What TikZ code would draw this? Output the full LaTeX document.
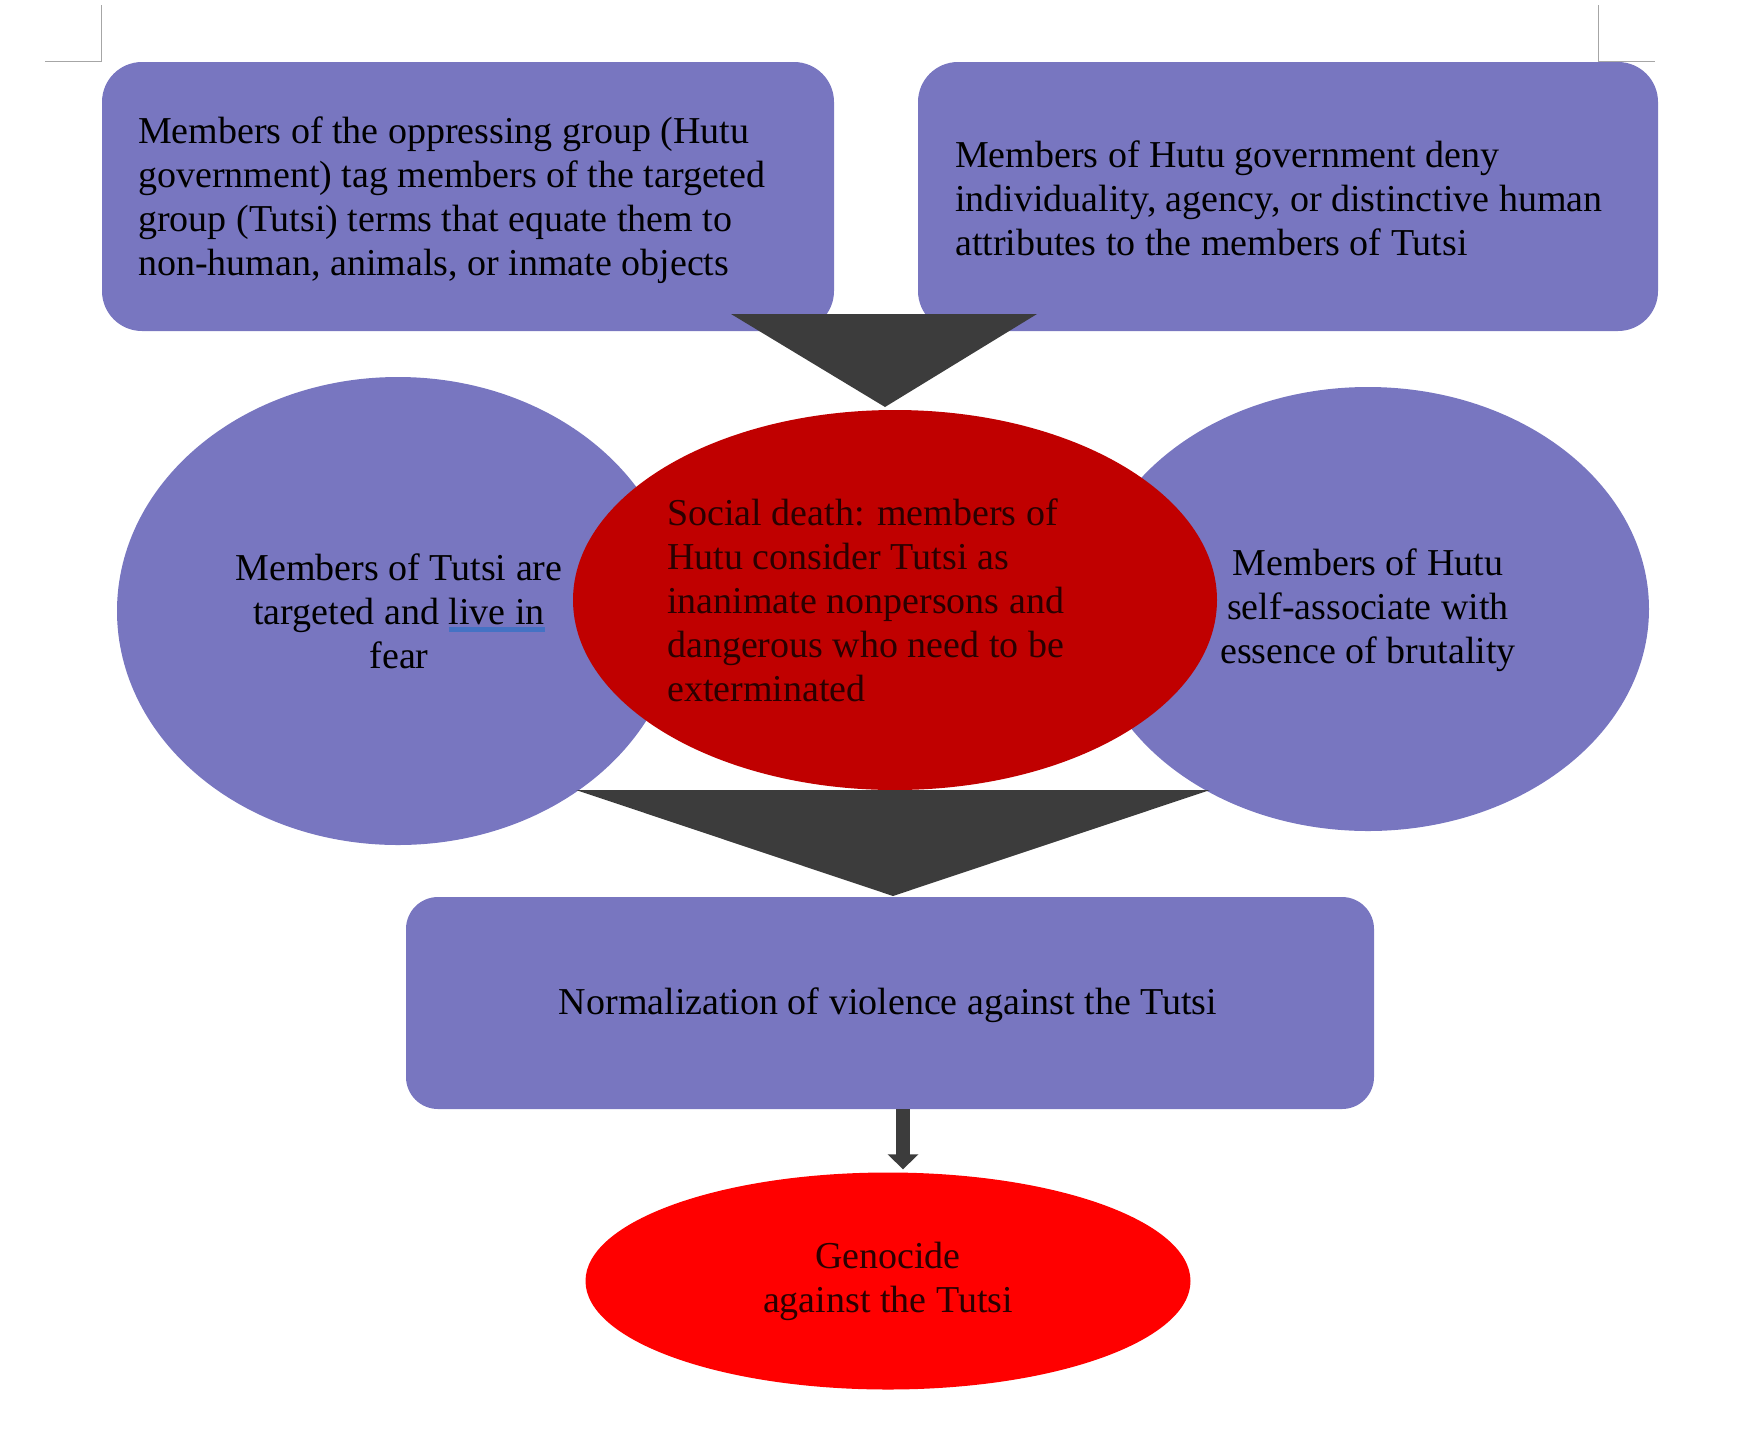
\documentclass[tikz,border=0pt]{standalone}
\usepackage{fontspec}
\setmainfont{Liberation Serif}
\usetikzlibrary{shapes.geometric,arrows.meta}
\definecolor{boxpurple}{HTML}{7876C0}
\definecolor{socred}{HTML}{C00000}
\definecolor{genred}{HTML}{FF0000}
\definecolor{tridark}{HTML}{3C3C3C}
\definecolor{ulblue}{HTML}{4472C4}
\definecolor{cropmark}{HTML}{A6A6A6}
\definecolor{redtext}{HTML}{2A0000}
\newcommand\blueul[1]{\setbox0\hbox{#1}\rlap{\color{ulblue}\rule[-7.5pt]{\wd0}{5pt}}\box0}
\begin{document}
\begin{tikzpicture}[x=1pt,y=-1pt,
  txt/.style={font=\fontsize{38}{44}\selectfont, inner sep=0pt, text=black},
  rbox/.style={fill=boxpurple, draw=none, rounded corners=40pt, inner sep=0pt},
  oval/.style={ellipse, draw=none, inner sep=0pt},
  tri/.style={fill=tridark, draw=none}]
\useasboundingbox (0,0) rectangle (1746,1428);
% crop marks
\draw[cropmark, line width=1pt] (45,61) -- (101,61) -- (101,5);
\draw[cropmark, line width=1pt] (1598,5) -- (1598,61) -- (1655,61);
% top boxes
\node[rbox, minimum width=732, minimum height=269] (tl) at (468,196.5) {};
\node[rbox, minimum width=740, minimum height=269] (tr) at (1288,196.5) {};
\node[txt, anchor=west, align=left] (tlt) at (138,200)
  {Members of the oppressing group (Hutu\\government) tag members of the targeted\\group (Tutsi) terms that equate them to\\non-human, animals, or inmate objects};
\node[txt, anchor=west, align=left] (trt) at (955,198)
  {Members of Hutu government deny\\individuality, agency, or distinctive human\\attributes to the members of Tutsi};
% top triangle
\coordinate (ta) at (731,314);
\coordinate (tb) at (1037,314);
\coordinate (tc) at (885,407);
\fill[tri] (ta) -- (tb) -- (tc) -- cycle;
% middle ellipses
\node[oval, fill=boxpurple, minimum width=562, minimum height=468] (lc) at (398,611) {};
\node[oval, fill=boxpurple, minimum width=562, minimum height=444] (rc) at (1368,609) {};
\node[oval, fill=socred, minimum width=644, minimum height=380] (sd) at (895,600) {};
\node[txt, align=center] (lct) at (399,611)
  {Members of Tutsi are\\targeted and \blueul{live in}\\fear};
\node[txt, align=center] (rct) at (1368,610)
  {Members of Hutu\\self-associate with\\essence of brutality};
\node[txt, anchor=west, align=left, text=redtext] (sdt) at (667,600)
  {Social death: members of\\Hutu consider Tutsi as\\inanimate nonpersons and\\dangerous who need to be\\exterminated};
% bottom triangle
\coordinate (ba) at (576,790);
\coordinate (bb) at (1210,790);
\coordinate (bc) at (893,896);
\fill[tri] (ba) -- (bb) -- (bc) -- cycle;
% normalization box
\node[rbox, minimum width=968, minimum height=212, rounded corners=32pt] (nb) at (890,1003) {};
\node[txt] (nbt) at (888,1005) {Normalization of violence against the Tutsi};
% genocide
\node[oval, fill=genred, minimum width=605, minimum height=217] (gen) at (888,1281) {};
\node[txt, align=center, text=redtext] (gent) at (888,1281) {Genocide\\against the Tutsi};
% arrow
\coordinate (arrtop) at ([xshift=13pt]nb.south);
\coordinate (arrend) at ([yshift=3pt]gen.north);
\draw[tridark, line width=14pt, -{Triangle[width=30pt,length=15pt]}]
  (arrtop) -- (arrtop |- arrend);
\end{tikzpicture}
\end{document}
